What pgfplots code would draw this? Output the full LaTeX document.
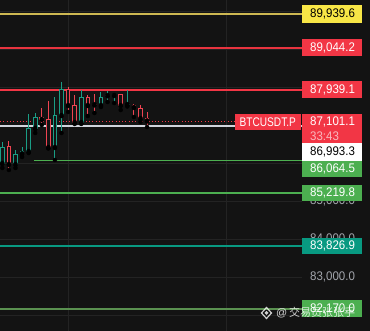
\documentclass[border=0pt]{standalone}
\usepackage{pgfplots}
\pgfplotsset{compat=1.18}
\usepackage{pgfplotstable}
\usepackage{graphicx}
\usepackage{fontspec}
\setmainfont{Liberation Sans}
\newfontfamily\lab[FakeStretch=0.92]{Liberation Sans}
\newfontfamily\cjk{Noto Sans CJK SC}

\definecolor{bgc}{HTML}{131313}
\definecolor{gridc}{HTML}{232323}
\definecolor{tickc}{HTML}{A3A6AD}
\definecolor{upc}{HTML}{1A9E86}
\definecolor{downc}{HTML}{EF4452}
\definecolor{redlab}{HTML}{F23645}
\definecolor{yellab}{HTML}{F8E646}
\definecolor{yelline}{HTML}{CDB852}
\definecolor{greenlab}{HTML}{4CAF50}
\definecolor{tealc}{HTML}{089981}
\definecolor{dkgreen}{HTML}{5A9150}
\definecolor{whiteline}{HTML}{D1D4DC}
\definecolor{thinred}{HTML}{E8343F}
\definecolor{pinktext}{HTML}{F9B8BE}

% up (green) candles: index open high low close
\pgfplotstableread{
x o h l c
0 85981 86573 85876 86436
2 85955 86349 85876 86244
3 86236 86428 86165 86323
4 86297 87297 86270 86928
5 86902 87323 86797 87218
8 86402 87744 86086 87271
9 87244 88139 86797 87955
12 87060 87920 87034 87744
15 87507 87876 87481 87744
16 87765 87902 87613 87778
17 87771 87850 87586 87823
19 87530 87929 87494 87540
}\upcandles

% down (red) candles: index open high low close
\pgfplotstableread{
x o h l c
1 86455 86586 85823 85955
6 87218 87455 87007 87139
7 87165 87650 86389 86402
10 87955 88008 87350 87507
11 87534 87797 87034 87060
13 87744 87797 87244 87507
14 87540 87823 87323 87525
18 87823 87830 87402 87507
20 87534 87560 87218 87455
21 87455 87534 87086 87165
22 87192 87350 86955 87101.1
}\downcandles

\tikzset{
  labbox/.style={minimum width=60pt, inner sep=0pt, anchor=west},
  labtxt/.style={font=\lab\fontsize{12.5}{12.5}\selectfont, inner sep=0pt, anchor=west},
}

\begin{document}
\begin{tikzpicture}[x=1pt,y=1pt]
\useasboundingbox (0,0) rectangle (370,331);
\fill[bgc] (0,0) rectangle (370,331);
\begin{axis}[
  at={(0pt,0pt)}, anchor=south west,
  scale only axis, width=302pt, height=331pt,
  xmin=-0.35, xmax=45.55, ymin=81586, ymax=90297,
  axis line style={draw=none},
  major tick length=0pt,
  xtick={10,34}, xticklabels={},
  ytick={82000,83000,84000,85000,86000,87000,88000,89000,90000},
  yticklabels={{},{83,000.0},{84,000.0},{85,000.0},{},{},{},{},{}},
  scaled y ticks=false,
  yticklabel pos=right,
  yticklabel style={font=\lab\fontsize{12.5}{12.5}\selectfont, text=tickc, anchor=west, inner sep=0pt, xshift=8pt},
  grid=major, grid style={gridc, line width=0.8pt},
  clip=false,
]
% level lines
\addplot[yelline, line width=2pt] coordinates {(-0.35,89939.6) (45.55,89939.6)};
\addplot[thinred, line width=1.8pt] coordinates {(-0.35,89044.2) (45.55,89044.2)};
\addplot[redlab, line width=2pt] coordinates {(-0.35,87939.1) (45.55,87939.1)};
\addplot[whiteline, line width=2pt] coordinates {(-0.35,86993.3) (45.55,86993.3)};
\addplot[redlab, line width=1pt, dash pattern=on 1pt off 2.3pt] coordinates {(-0.35,87101.1) (45.55,87101.1)};
\addplot[greenlab, line width=1pt] coordinates {(4.8,86064.5) (45.55,86064.5)};
\addplot[greenlab, line width=2pt] coordinates {(-0.35,85219.8) (45.55,85219.8)};
\addplot[tealc, line width=2pt] coordinates {(-0.35,83826.9) (45.55,83826.9)};
\addplot[dkgreen, line width=2pt] coordinates {(-0.35,82170.0) (45.55,82170.0)};

% wicks
\addplot[only marks, mark=none, forget plot, error bars/.cd, y dir=plus, y explicit, error mark=none,
  error bar style={draw=upc, line width=1pt}]
  table[x=x, y=l, y error plus expr=\thisrow{h}-\thisrow{l}] {\upcandles};
\addplot[only marks, mark=none, forget plot, error bars/.cd, y dir=plus, y explicit, error mark=none,
  error bar style={draw=downc, line width=1pt}]
  table[x=x, y=l, y error plus expr=\thisrow{h}-\thisrow{l}] {\downcandles};
% bodies (outer)
\addplot[only marks, mark=none, forget plot, error bars/.cd, y dir=plus, y explicit, error mark=none,
  error bar style={draw=upc, line width=4.6pt}]
  table[x=x, y expr={min(\thisrow{o},\thisrow{c})}, y error plus expr={max(abs(\thisrow{c}-\thisrow{o}),26)}] {\upcandles};
\addplot[only marks, mark=none, forget plot, error bars/.cd, y dir=plus, y explicit, error mark=none,
  error bar style={draw=downc, line width=4.6pt}]
  table[x=x, y expr={min(\thisrow{o},\thisrow{c})}, y error plus expr={max(abs(\thisrow{c}-\thisrow{o}),26)}] {\downcandles};
% bodies (hollow inside)
\addplot[only marks, mark=none, forget plot, error bars/.cd, y dir=plus, y explicit, error mark=none,
  error bar style={draw=bgc, line width=2.6pt}]
  table[x=x, y expr={min(\thisrow{o},\thisrow{c})+26}, y error plus expr={max(abs(\thisrow{c}-\thisrow{o})-52,0)}] {\upcandles};
\addplot[only marks, mark=none, forget plot, error bars/.cd, y dir=plus, y explicit, error mark=none,
  error bar style={draw=bgc, line width=2.6pt}]
  table[x=x, y expr={min(\thisrow{o},\thisrow{c})+26}, y error plus expr={max(abs(\thisrow{c}-\thisrow{o})-52,0)}] {\downcandles};

\coordinate (L1) at (axis cs:45.55,89939.6);
\coordinate (L2) at (axis cs:45.55,89044.2);
\coordinate (L3) at (axis cs:45.55,87939.1);
\coordinate (L4) at (axis cs:45.55,87101.1);
\coordinate (L6) at (axis cs:45.55,85219.8);
\coordinate (L7) at (axis cs:45.55,83826.9);
\coordinate (L8) at (axis cs:45.55,82170.0);
\end{axis}

% price labels
\node[labbox, fill=yellab, minimum height=18pt] (B1) at (L1) {};
\node[labtxt, text=black] at ([xshift=8pt]B1.west) {89,939.6};
\node[labbox, fill=redlab, minimum height=17pt] (B2) at (L2) {};
\node[labtxt, text=white] at ([xshift=8pt]B2.west) {89,044.2};
\node[labbox, fill=redlab, minimum height=17pt] (B3) at (L3) {};
\node[labtxt, text=white] at ([xshift=8pt]B3.west) {87,939.1};

\node[labbox, fill=redlab, minimum height=29pt, anchor=north west] (CP) at ([yshift=8pt]L4) {};
\node[labtxt, text=white] at ([xshift=8pt,yshift=-8.6pt]CP.north west) {87,101.1};
\node[labtxt, text=pinktext] at ([xshift=8pt,yshift=-22.3pt]CP.north west) {33:43};
\node[labbox, fill=white, minimum height=17.7pt, anchor=north west] (W) at (CP.south west) {};
\node[labtxt, text=black] at ([xshift=8pt]W.west) {86,993.3};
\node[labbox, fill=greenlab, minimum height=16pt, anchor=north west] (G1) at (W.south west) {};
\node[labtxt, text=white] at ([xshift=8pt]G1.west) {86,064.5};

\node[fill=redlab, minimum width=66pt, minimum height=16.7pt, inner sep=0pt, anchor=east] (SYM) at ([xshift=-1pt,yshift=-0.5pt]L4) {};
\node[font=\lab\fontsize{12.5}{12.5}\selectfont, text=white, inner sep=0pt] at (SYM.center) {\scalebox{0.88}[1]{BTCUSDT.P}};

\node[labbox, fill=greenlab, minimum height=16pt] (B6) at (L6) {};
\node[labtxt, text=white] at ([xshift=8pt]B6.west) {85,219.8};
\node[labbox, fill=tealc, minimum height=16pt] (B7) at (L7) {};
\node[labtxt, text=white] at ([xshift=8pt]B7.west) {83,826.9};
\node[labbox, fill=greenlab, minimum height=17pt] (B8) at (L8) {};
\node[labtxt, text=white] at ([xshift=8pt]B8.west) {82,170.0};

% watermark
\begin{scope}[opacity=0.8]
\draw[white, line width=1.2pt] (266.5,23.5) -- (271.5,18) -- (266.5,12.5) -- (261.5,18) -- cycle;
\fill[white] (266.5,20) -- (268.5,18) -- (266.5,16) -- (264.5,18) -- cycle;
\node[anchor=west, inner sep=0pt, text=white, font=\fontsize{11}{11}\selectfont] at (276,18) {@\,{\cjk 交易员张张手}};
\end{scope}
\end{tikzpicture}
\end{document}
